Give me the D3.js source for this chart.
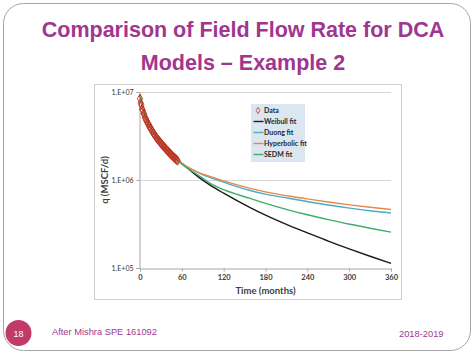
<!DOCTYPE html>
<html><head><meta charset="utf-8">
<script src="https://cdn.jsdelivr.net/npm/d3@7"></script>
<style>html,body{margin:0;padding:0;background:#fff;}svg{display:block;}</style>
</head><body>
<svg id="chart" width="474" height="355"></svg>
<script>
// ---- data ----
const titleLines = ["Comparison of Field Flow Rate for DCA", "Models \u2013 Example 2"];
const xTicks = [0, 60, 120, 180, 240, 300, 360];
const yTicks = [1e5, 1e6, 1e7];
const yTickLabels = ["1.E+05", "1.E+06", "1.E+07"];
const fitTimes = [0, 2, 5, 10, 15, 20, 30, 40, 50, 60, 86, 100, 120, 158, 180, 215, 240, 270, 301, 330, 360];
const weibull =    [9.3e6, 7.8e6, 6.2e6, 4.7e6, 3.9e6, 3.35e6, 2.6e6, 2.12e6, 1.79e6, 1.55e6, 1.05e6, 8.81e5, 7.08e5, 4.85e5, 3.98e5, 3.01e5, 2.51e5, 2.02e5, 1.64e5, 1.36e5, 1.13e5];
const duong =      [9.0e6, 7.7e6, 6.2e6, 4.75e6, 3.95e6, 3.4e6, 2.65e6, 2.15e6, 1.8e6, 1.55e6, 1.19e6, 1.07e6, 9.44e5, 7.59e5, 6.92e5, 6.17e5, 5.69e5, 5.19e5, 4.79e5, 4.47e5, 4.22e5];
const hyperbolic = [9.0e6, 7.7e6, 6.2e6, 4.75e6, 3.95e6, 3.4e6, 2.65e6, 2.15e6, 1.8e6, 1.55e6, 1.20e6, 1.10e6, 9.77e5, 8.04e5, 7.33e5, 6.53e5, 6.10e5, 5.62e5, 5.21e5, 4.90e5, 4.62e5];
const sedm =       [8.9e6, 7.7e6, 6.2e6, 4.75e6, 3.95e6, 3.4e6, 2.62e6, 2.12e6, 1.77e6, 1.51e6, 1.10e6, 9.23e5, 7.76e5, 6.17e5, 5.43e5, 4.52e5, 4.03e5, 3.55e5, 3.14e5, 2.83e5, 2.56e5];
const dataTimes = [0,1,2,3,4,5,6,7,8,9,10,11,12,13,14,15,16,17,18,19,20,21,22,23,24,25,26,27,28,29,30,31,32,33,34,35,36,37,38,39,40,41,42,43,44,45,46,47,48,49,50,51,52,53,54];
const dataRates = [8.4e6,7.5e6,7.1e6,6.4e6,6.2e6,5.7e6,5.6e6,5.1e6,5.05e6,4.75e6,4.65e6,4.4e6,4.35e6,4.1e6,4.05e6,3.85e6,3.8e6,3.6e6,3.58e6,3.42e6,3.38e6,3.22e6,3.18e6,3.05e6,3.02e6,2.9e6,2.88e6,2.78e6,2.76e6,2.66e6,2.64e6,2.54e6,2.52e6,2.44e6,2.41e6,2.34e6,2.32e6,2.25e6,2.23e6,2.16e6,2.14e6,2.07e6,2.06e6,1.99e6,1.98e6,1.92e6,1.91e6,1.85e6,1.84e6,1.79e6,1.78e6,1.73e6,1.72e6,1.68e6,1.66e6];
const seriesNames = ["Weibull fit", "Duong fit", "Hyperbolic fit", "SEDM fit"];
const seriesColors = ["#1b1b1b", "#4bacc6", "#e8874a", "#3fad6a"];
const seriesValues = [weibull, duong, hyperbolic, sedm];

// ---- drawing ----
const svg = d3.select("#chart");
const purple = "#a0368f";

// slide frame
svg.append("rect").attr("x", 3.5).attr("y", 3.5).attr("width", 467).attr("height", 347)
  .attr("rx", 20).attr("ry", 20).attr("fill", "#fff").attr("stroke", "#a6a6a6").attr("stroke-width", 1);

// title
svg.append("g").selectAll("text").data(titleLines).join("text")
  .attr("x", 243).attr("y", (d, i) => 37 + i * 33)
  .attr("text-anchor", "middle")
  .attr("font-family", "Liberation Sans, Arial, sans-serif")
  .attr("font-weight", "bold").attr("font-size", 21.5)
  .attr("fill", purple).text(d => d);

// chart box
svg.append("rect").attr("x", 94.5).attr("y", 84.5).attr("width", 307).attr("height", 215)
  .attr("fill", "#fff").attr("stroke", "#d0d0d0").attr("stroke-width", 1);

const x = d3.scaleLinear().domain([0, 360]).range([140, 391]);
const y = d3.scaleLog().domain([1e5, 1e7]).range([268, 92]);
const font = "Lato, 'Open Sans', sans-serif";

// gridlines
svg.append("g").selectAll("line").data([1e6, 1e7]).join("line")
  .attr("x1", x(0)).attr("x2", x(360))
  .attr("y1", d => Math.round(y(d)) + 0.5).attr("y2", d => Math.round(y(d)) + 0.5)
  .attr("stroke", "#d6d6d6").attr("stroke-width", 1);

// axes
const xAxis = svg.append("g").attr("transform", `translate(0,${y(1e5) + 0.5})`)
  .call(d3.axisBottom(x).tickValues(xTicks).tickSize(3).tickPadding(3).tickFormat(d3.format("d")));
const yAxis = svg.append("g").attr("transform", `translate(${x(0) - 0.5},0)`)
  .call(d3.axisLeft(y).tickValues(yTicks).tickSize(3).tickPadding(3).tickFormat(d => yTickLabels[yTicks.indexOf(d)]));
[xAxis, yAxis].forEach(a => {
  a.select(".domain").attr("stroke", "#a6a6a6");
  a.selectAll(".tick line").attr("stroke", "#a6a6a6");
  a.selectAll("text").attr("font-family", font).attr("font-size", 7.5).attr("font-weight", "bold").attr("fill", "#404040");
});
yAxis.selectAll("text").attr("font-size", 7).attr("font-weight", "normal").attr("fill", "#333");

// axis titles
svg.append("text").attr("x", 265.5).attr("y", 294).attr("text-anchor", "middle")
  .attr("font-family", font).attr("font-weight", "bold").attr("font-size", 9.5).attr("fill", "#404040")
  .text("Time (months)");
svg.append("text").attr("transform", "translate(108,180) rotate(-90)").attr("text-anchor", "middle")
  .attr("font-family", font).attr("font-weight", "bold").attr("font-size", 9.5).attr("fill", "#404040")
  .text("q (MSCF/d)");

// fit curves
const line = d3.line().x(d => x(d[0])).y(d => y(d[1])).curve(d3.curveMonotoneX);
svg.append("g").selectAll("path").data(seriesValues).join("path")
  .attr("d", vals => line(fitTimes.map((t, i) => [t, vals[i]])))
  .attr("fill", "none")
  .attr("stroke", (d, i) => seriesColors[i]).attr("stroke-width", 1.4);

// data markers (on top of the fits)
const diamond = d3.symbol().type(d3.symbolDiamond).size(24);
svg.append("g").selectAll("path").data(dataTimes.map((t, i) => [t, dataRates[i]])).join("path")
  .attr("d", diamond)
  .attr("transform", d => `translate(${x(d[0])},${y(d[1])})`)
  .attr("fill", "none").attr("stroke", "#bf3524").attr("stroke-width", 1).attr("opacity", 0.9);

// legend
const lg = svg.append("g");
lg.append("rect").attr("x", 251).attr("y", 104).attr("width", 54).attr("height", 58).attr("fill", "#dce6f1");
const legendY = [110.5, 121.5, 132.5, 143.5, 154.5];
lg.append("path").attr("d", d3.symbol().type(d3.symbolDiamond).size(12))
  .attr("transform", `translate(258,${legendY[0]})`).attr("fill", "none").attr("stroke", "#c0392b").attr("stroke-width", 0.8);
lg.append("text").attr("x", 264).attr("y", legendY[0] + 2.5).attr("font-family", font).attr("font-weight", "bold")
  .attr("font-size", 7).attr("fill", "#262626").text("Data");
seriesNames.forEach((n, i) => {
  lg.append("line").attr("x1", 253.5).attr("x2", 263.5).attr("y1", legendY[i + 1]).attr("y2", legendY[i + 1])
    .attr("stroke", seriesColors[i]).attr("stroke-width", 1.4);
  lg.append("text").attr("x", 264).attr("y", legendY[i + 1] + 2.5).attr("font-family", font).attr("font-weight", "bold")
    .attr("font-size", 7).attr("fill", "#262626").text(n);
});

// footer
svg.append("circle").attr("cx", 18.5).attr("cy", 333).attr("r", 13).attr("fill", "#c23a68");
svg.append("text").attr("x", 18.5).attr("y", 336.5).attr("text-anchor", "middle")
  .attr("font-family", "Liberation Sans, Arial, sans-serif").attr("font-size", 9).attr("fill", "#fff").text("18");
svg.append("text").attr("x", 52).attr("y", 335).attr("font-family", "Liberation Sans, Arial, sans-serif")
  .attr("font-size", 9.3).attr("fill", purple).text("After Mishra SPE 161092");
svg.append("text").attr("x", 443.5).attr("y", 337).attr("text-anchor", "end").attr("font-family", "Liberation Sans, Arial, sans-serif")
  .attr("font-size", 9.3).attr("fill", purple).text("2018-2019");
</script>
</body></html>
